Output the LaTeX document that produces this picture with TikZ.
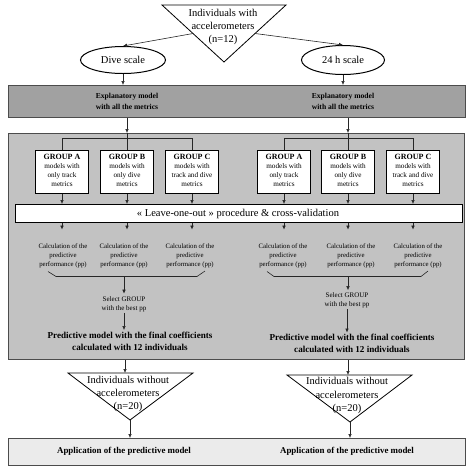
\documentclass[tikz,border=0pt]{standalone}
\usepackage{fontspec}
\setmainfont{Liberation Serif}
\usetikzlibrary{arrows.meta,shapes.geometric,calc}
\begin{document}
\begin{tikzpicture}[x=1pt,y=-1pt,
  arr/.style={draw=black!85, line width=0.6pt, -{Latex[length=4pt,width=3.6pt]}},
  ln/.style={draw=black!85, line width=0.6pt},
  tri/.style={draw=black, line width=0.8pt, fill=white},
  txt/.style={inner sep=0pt, align=center},
  bigtxt/.style={txt, font=\fontsize{10.5}{13.2}\selectfont},
  ell/.style={ellipse, draw=black, line width=1pt, fill=white, inner sep=0pt, font=\fontsize{10.5}{13}\selectfont},
  band/.style={draw=black!70, line width=1.2pt, anchor=north west, inner sep=0pt},
  grp/.style={draw=black, line width=1.1pt, fill=white, minimum width=53pt, minimum height=43pt, inner sep=0pt, anchor=north},
  grptxt/.style={txt, font=\fontsize{7.2}{9}\selectfont},
  smalltxt/.style={txt, font=\fontsize{6.8}{9}\selectfont},
  boldtxt/.style={txt, font=\fontsize{7.6}{11}\selectfont\bfseries},
  predtxt/.style={txt, font=\fontsize{9.1}{12}\selectfont\bfseries},
]
\useasboundingbox (0,0) rectangle (474,475);

% ---------- top triangle ----------
\coordinate (t1a) at (162,5); \coordinate (t1b) at (286,5); \coordinate (t1c) at (224,62);
\draw[tri] (t1a) -- (t1b) -- (t1c) -- cycle;
\node[bigtxt] (top) at (223,27) {Individuals with\\accelerometers\\(n=12)};

% ---------- ellipses ----------
\node[ell, minimum width=85pt, minimum height=27pt] (dive) at (123,60) {Dive scale};
\node[ell, minimum width=83pt, minimum height=29pt] (day) at (343,60) {24 h scale};
\draw[arr] ($(t1a)!0.5!(t1c)$) -- (dive.north);
\draw[arr] ($(t1b)!0.5!(t1c)$) -- (day.north);

% ---------- explanatory band ----------
\node[band, fill=black!37, minimum width=457pt, minimum height=32pt] (expl) at (8,85) {};
\node[boldtxt] (explL) at (127,101.5) {Explanatory model\\with all the metrics};
\node[boldtxt] (explR) at (343,101.5) {Explanatory model\\with all the metrics};
\draw[arr] (dive.south) -- (dive.south |- expl.north);
\draw[arr] (day.south) -- (day.south |- expl.north);

% ---------- big grey panel ----------
\node[band, fill=black!24, minimum width=456pt, minimum height=226pt] (big) at (8,133) {};

% ---------- groups ----------
\node[grp] (gA) at (62,150) {};
\node[grp] (gB) at (127,150) {};
\node[grp] (gC) at (192,150) {};
\node[grp] (hA) at (284,150) {};
\node[grp] (hB) at (348,150) {};
\node[grp] (hC) at (413,150) {};

\foreach \g in {gA,hA}{
  \node[grptxt, anchor=north] at ($(\g.north)+(0,4)$) {\fontsize{8}{9}\selectfont\bfseries GROUP A\\models with\\only track\\metrics};}
\foreach \g in {gB,hB}{
  \node[grptxt, anchor=north] at ($(\g.north)+(0,4)$) {\fontsize{8}{9}\selectfont\bfseries GROUP B\\models with\\only dive\\metrics};}
\foreach \g in {gC,hC}{
  \node[grptxt, anchor=north] at ($(\g.north)+(0,4)$) {\fontsize{8}{9}\selectfont\bfseries GROUP C\\models with\\track and dive\\metrics};}

\draw[arr] (expl.south -| gB.north) -- (big.north -| gB.north);
\draw[arr] (expl.south -| hB.north) -- (big.north -| hB.north);
\draw[ln] (big.north -| gB.north) -- (gB.north);
\draw[ln] (big.north -| hB.north) -- (hB.north);
\draw[ln] (gA.north) -- ++(0,-12) -| (gC.north);
\draw[ln] (hA.north) -- ++(0,-12) -| (hC.north);

% ---------- leave-one-out ----------
\node[draw=black, line width=0.6pt, fill=white, anchor=north west, minimum width=447pt, minimum height=18pt, inner sep=0pt] (leave) at (15,204) {};
\node[txt, font=\fontsize{10.5}{12}\selectfont] (leavetxt) at (238,213.5) {« Leave-one-out » procedure \& cross-validation};
\foreach \g in {gA,gB,gC,hA,hB,hC}{
  \draw[arr] (\g.south) -- (\g.south |- leave.north);
  \draw[arr] (\g.south |- leave.south) -- ++(0,7);
}

% ---------- calculation texts ----------
\node[smalltxt] (cA) at (63,255.5) {Calculation of the\\predictive\\performance (pp)};
\node[smalltxt] (cB) at (124,255.5) {Calculation of the\\predictive\\performance (pp)};
\node[smalltxt] (cC) at (190,255.5) {Calculation of the\\predictive\\performance (pp)};
\node[smalltxt] (dA) at (283,255.5) {Calculation of the\\predictive\\performance (pp)};
\node[smalltxt] (dB) at (351,255.5) {Calculation of the\\predictive\\performance (pp)};
\node[smalltxt] (dC) at (418,255.5) {Calculation of the\\predictive\\performance (pp)};

% ---------- braces ----------
\coordinate (bL) at (124,276.5);
\coordinate (bR) at (348,276.5);
\draw[ln] (48,271.5) -- (56,276.5) -- (197,276.5) -- (205,271);
\draw[ln] (267,271.5) -- (274,276.5) -- (421,276.5) -- (428,271);

\node[smalltxt, font=\fontsize{7}{9}\selectfont] (sL) at (124,304) {Select GROUP\\with the best pp};
\node[smalltxt, font=\fontsize{7}{9}\selectfont] (sR) at (347,300.5) {Select GROUP\\with the best pp};
\draw[arr, shorten >=2.5pt] (bL) -- (bL |- sL.north);
\draw[arr, shorten >=2.5pt] (bR) -- (bR |- sR.north);

\node[predtxt] (pL) at (130,341) {Predictive model with the final coefficients\\calculated with 12 individuals};
\node[predtxt] (pR) at (352,343.5) {Predictive model with the final coefficients\\calculated with 12 individuals};
\draw[arr, shorten <=1pt, shorten >=1.5pt] (sL.south) -- (sL.south |- pL.north);
\draw[arr, shorten <=1pt, shorten >=1.5pt] (sR.south) -- (sR.south |- pR.north);

% ---------- bottom triangles ----------
\coordinate (u1a) at (68,373); \coordinate (u1b) at (193,373); \coordinate (u1c) at (130,420);
\coordinate (u2a) at (287,375); \coordinate (u2b) at (412,375); \coordinate (u2c) at (350,422);
\draw[tri] (u1a) -- (u1b) -- (u1c) -- cycle;
\draw[tri] (u2a) -- (u2b) -- (u2c) -- cycle;
\node[bigtxt] (n1) at (128,394) {Individuals without\\accelerometers\\(n=20)};
\node[bigtxt] (n2) at (347,395.5) {Individuals without\\accelerometers\\(n=20)};
\coordinate (u1t) at (125,373);
\coordinate (u2t) at (348,375);
\draw[arr] (big.south -| u1t) -- (u1t);
\draw[arr] (big.south -| u2t) -- (u2t);

% ---------- application band ----------
\node[band, fill=black!8, minimum width=457pt, minimum height=27pt] (app) at (8,438) {};
\node[predtxt, font=\fontsize{8.9}{11}\selectfont\bfseries] (appL) at (124,451.5) {Application of the predictive model};
\node[predtxt, font=\fontsize{8.9}{11}\selectfont\bfseries] (appR) at (347,451.5) {Application of the predictive model};
\draw[arr] (u1c) -- (u1c |- app.north);
\draw[arr] (u2c) -- (u2c |- app.north);
\end{tikzpicture}
\end{document}
